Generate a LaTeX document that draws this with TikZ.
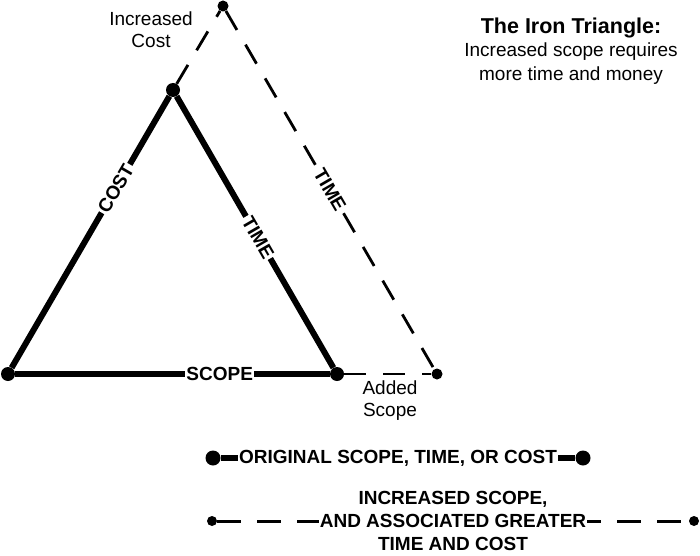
\documentclass[tikz,border=0pt]{standalone}
\usepackage{fontspec}
\setmainfont{Liberation Sans}
\usetikzlibrary{positioning}

\begin{document}
\begin{tikzpicture}[
  x=1pt, y=1pt,
  bigdot/.style={circle, fill=black, inner sep=0pt, minimum size=14pt},
  smalldot/.style={circle, fill=black, inner sep=0pt, minimum size=11pt},
  tinydot/.style={circle, fill=black, inner sep=0pt, minimum size=10pt},
  original/.style={line width=6pt},
  increased/.style={line width=2.8pt, dash pattern=on 22pt off 17pt},
  sidelabel/.style={fill=white, inner sep=1.5pt, sloped, font=\fontsize{19}{20}\selectfont\bfseries},
  note/.style={align=center, font=\fontsize{19}{22}\selectfont},
  legendtext/.style={fill=white, inner sep=1pt, align=center, font=\fontsize{19}{23}\selectfont\bfseries}
]
\useasboundingbox (0,0) rectangle (700,555);

% Original triangle
\node[bigdot] (A) at (8,181) {};
\node[bigdot] (T) at (173,465) {};
\node[bigdot] (B) at (337,181) {};

% Increased triangle
\node[smalldot] (T2) at (223,549) {};
\node[smalldot] (B2) at (437,181) {};

% Texts
\node[note] (IncCost) at (151,525) {Increased\\Cost};
\node[note] (AddScope) at (390,154) {Added\\Scope};
\node[note, font=\fontsize{19}{23.5}\selectfont] (Title) at (571,504)
  {{\fontsize{21.5}{23.5}\selectfont\bfseries The Iron Triangle:}\\Increased scope requires\\more time and money};

% Sides of the original triangle
\draw[original] (A) -- node[sidelabel, pos=0.66] {COST} (T);
\draw[original] (T) -- node[sidelabel, pos=0.52] {TIME} (B);
\draw[original] (A) -- node[sidelabel, pos=0.65] {SCOPE} (B);

% Sides of the increased triangle
\draw[increased] (T) -- (T2);
\draw[increased] (T2) -- node[sidelabel, pos=0.5] {TIME} (B2);
\draw[increased] (B) -- (B2);

% Legend
\node[bigdot, minimum size=15pt] (L1a) at (213,97) {};
\node[bigdot, minimum size=15pt] (L1b) at (583,97) {};
\draw[original] (L1a) -- node[legendtext] {ORIGINAL SCOPE, TIME, OR COST} (L1b);

\node[tinydot] (L2a) at (212,34) {};
\node[tinydot] (L2b) at (694,34) {};
\draw[increased, line width=3pt, dash pattern=on 24pt off 16pt] (L2a) -- node[legendtext]
  {INCREASED SCOPE,\\AND ASSOCIATED GREATER\\TIME AND COST} (L2b);

\end{tikzpicture}
\end{document}
